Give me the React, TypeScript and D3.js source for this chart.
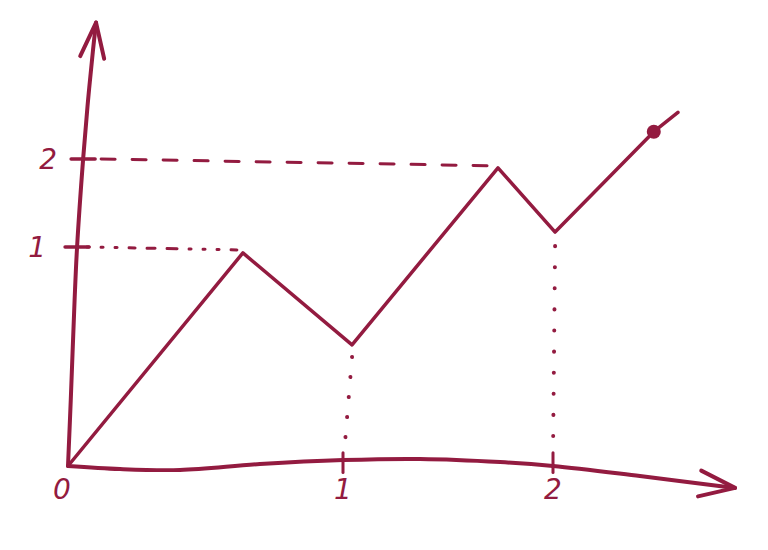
import React from 'react';
import * as d3 from 'd3';

// hand-drawn chart: tick positions are uneven, so the scales are piecewise
const tickValues = [0, 1, 2];
const xTickLabels = ['0', '1', '2'];
const yTickLabels = ['1', '2'];

// the zig-zag line (x, y in chart units)
const lineX = [0, 0.636, 1.043, 1.738, 2.01, 2.48, 2.595];
const lineY = [0, 0.973, 0.553, 1.9, 1.17, 2.31, 2.53];
const markerIndex = 5;

// wobbly axes
const xAxisX = [0, 0.189, 0.407, 0.698, 1, 1.367, 1.748, 2, 2.414, 2.867];
const xAxisY = [0, -0.014, -0.018, 0.009, 0.027, 0.032, 0.018, 0, -0.046, -0.1];
const yAxisX = [0, 0.01, 0.024, 0.033, 0.055, 0.073, 0.091, 0.102];
const yAxisY = [0, 0.3, 0.758, 1, 2, 2.67, 3.24, 3.55];

const COLOR = '#931b40';

const x = d3.scaleLinear().domain(tickValues).range([68, 343, 553]);
const y = d3.scaleLinear().domain(tickValues).range([466, 247, 159]);

const toPts = (xs: number[], ys: number[]): [number, number][] =>
  xs.map((v, i) => [x(v), y(ys[i])]);

const curve = d3.line().curve(d3.curveCatmullRom.alpha(0.5));
const straight = d3.line();

// open V arrowhead from the last two points of a path
const arrowHead = (pts: [number, number][], len = 38, spread = 20) => {
  const [tx, ty] = pts[pts.length - 1];
  const [px, py] = pts[pts.length - 2];
  const back = Math.atan2(py - ty, px - tx);
  const r = (spread * Math.PI) / 180;
  const a = [tx + len * Math.cos(back + r), ty + len * Math.sin(back + r)];
  const b = [tx + len * Math.cos(back - r), ty + len * Math.sin(back - r)];
  return `M${a[0]},${a[1]}L${tx},${ty}L${b[0]},${b[1]}`;
};

const App: React.FC = () => {
  const linePts = toPts(lineX, lineY);
  const xAxisPts = toPts(xAxisX, xAxisY);
  const yAxisPts = toPts(yAxisX, yAxisY);

  // where the y axis sits at a given height (for guide lines)
  const yAxisAt = (v: number) => {
    const i = yAxisY.indexOf(v);
    return i >= 0 ? yAxisX[i] : 0;
  };

  const peak = linePts[3];
  const firstPeak = linePts[1];
  const trough1 = linePts[2];
  const trough2 = linePts[4];

  return (
    <svg
      width={768}
      height={550}
      style={{ position: 'fixed', left: 0, top: 0, background: '#fff' }}
      fontFamily="DejaVu Sans"
    >
      <g fill="none" stroke={COLOR} strokeLinecap="round" strokeLinejoin="round">
        {/* guide lines */}
        <path
          d={straight([[x(yAxisAt(2)) + 18, y(2)], [peak[0] - 4, peak[1] - 2]]) as string}
          strokeWidth={3}
          strokeDasharray="14 17"
        />
        <path
          d={straight([[x(yAxisAt(1)) + 10, y(1)], [firstPeak[0] - 6, firstPeak[1] - 3]]) as string}
          strokeWidth={3}
          strokeDasharray="2 12 2 12 2 12 6 12 8 12 10 12"
        />
        <path
          d={straight([[trough1[0], trough1[1] + 12], [x(1) + 1, y(0.05)]]) as string}
          strokeWidth={4}
          strokeDasharray="0.1 20"
        />
        <path
          d={straight([[trough2[0], trough2[1] + 14], [x(2), y(0.05)]]) as string}
          strokeWidth={4}
          strokeDasharray="0.1 21"
        />

        {/* axes */}
        <path d={curve(xAxisPts) as string} strokeWidth={4} />
        <path d={arrowHead(xAxisPts)} strokeWidth={4} />
        <path d={curve(yAxisPts) as string} strokeWidth={4} />
        <path d={arrowHead(yAxisPts, 37, 19)} strokeWidth={4} />

        {/* ticks */}
        {tickValues.slice(1).map(t => (
          <path
            key={'xt' + t}
            d={straight([[x(t), y(0.06)], [x(t), y(-0.03)]]) as string}
            strokeWidth={3}
          />
        ))}
        {tickValues.slice(1).map(t => (
          <path
            key={'yt' + t}
            d={straight([[x(yAxisAt(t)) - 12, y(t)], [x(yAxisAt(t)) + 12, y(t)]]) as string}
            strokeWidth={3.5}
          />
        ))}

        {/* data line */}
        <path d={straight(linePts) as string} strokeWidth={3.5} />
      </g>
      <circle cx={linePts[markerIndex][0]} cy={linePts[markerIndex][1]} r={7} fill={COLOR} />

      {/* labels */}
      <g fill={COLOR} fontSize={28} fontStyle="italic">
        {tickValues.map((t, i) => (
          <text key={'xl' + t} x={x(t) - (i === 0 ? 6 : 0)} y={y(-0.15)} textAnchor="middle">
            {xTickLabels[i]}
          </text>
        ))}
        {tickValues.slice(1).map((t, i) => (
          <text key={'yl' + t} x={x(yAxisAt(t)) - (i === 0 ? 40 : 35)} y={y(t) + 10} textAnchor="middle">
            {yTickLabels[i]}
          </text>
        ))}
      </g>
    </svg>
  );
};

export default App;
